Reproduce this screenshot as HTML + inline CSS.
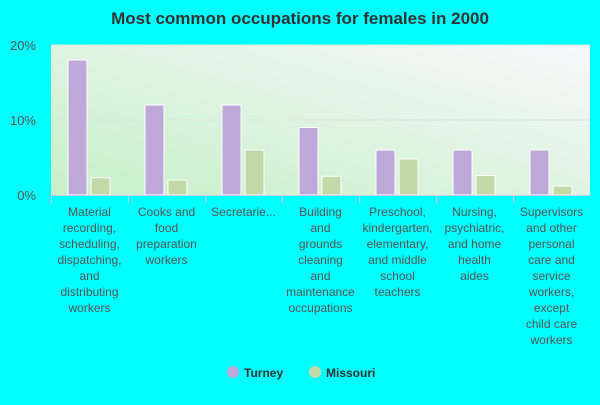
<!DOCTYPE html>
<html><head><meta charset="utf-8"><style>
body{margin:0;background:#00ffff;width:600px;height:400px;overflow:hidden;font-family:"Liberation Sans",sans-serif}
</style></head><body>
<svg id="chart" width="600" height="400" xmlns="http://www.w3.org/2000/svg">
<defs><linearGradient id="bg" x1="0" y1="1" x2="1" y2="0">
<stop offset="0" stop-color="#c6f0c8"/><stop offset="1" stop-color="#f8f8fb"/></linearGradient></defs>
<text x="300" y="24" text-anchor="middle" font-size="17" font-weight="bold" fill="#333">Most common occupations for females in 2000</text>
<rect x="51" y="45" width="539" height="150" fill="url(#bg)"/>
<g id="grid"></g><g id="bars"></g><g id="xaxis"></g>
<g>
<circle cx="233" cy="372" r="6" fill="#bea9da"/>
<text x="244" y="377" font-size="12" font-weight="bold" fill="#333">Turney</text>
<circle cx="315" cy="372" r="6" fill="#c4d9a8"/>
<text x="326" y="377" font-size="12" font-weight="bold" fill="#333">Missouri</text>
</g>
</svg>
<script>
const categories=[["Material","recording,","scheduling,","dispatching,","and","distributing","workers"],["Cooks and","food","preparation","workers"],["Secretarie..."],["Building","and","grounds","cleaning","and","maintenance","occupations"],["Preschool,","kindergarten,","elementary,","and middle","school","teachers"],["Nursing,","psychiatric,","and home","health","aides"],["Supervisors","and other","personal","care and","service","workers,","except","child care","workers"]];
const turney=[18,12,12,9,6,6,6];
const missouri=[2.3,2.0,6.0,2.5,4.8,2.6,1.2];
const ticks=[0,10,20];
const tickLabels=["0%","10%","20%"];
const NS="http://www.w3.org/2000/svg";
const x0=51,cw=77,yb=195,yh=150,ymax=20;
const y=v=>yb-v/ymax*yh;
function mk(t,a,p){const e=document.createElementNS(NS,t);for(const k in a)e.setAttribute(k,a[k]);p.appendChild(e);return e;}
const g=document.getElementById('grid'),b=document.getElementById('bars'),xa=document.getElementById('xaxis');
ticks.forEach((t,i)=>{
 if(t>0){const l=mk('line',{x1:x0,x2:590,y1:y(t),y2:y(t),stroke:'#dde6dd','stroke-width':1},g);
 
 }
 const tx=mk('text',{x:36,y:y(t)+5,'text-anchor':'end','font-size':13,fill:'#555'},g);tx.textContent=tickLabels[i];
 
 
});
mk('line',{x1:x0,x2:590,y1:yb+0.5,y2:yb+0.5,stroke:'#cce',"stroke-width":1},xa);
categories.forEach((c,i)=>{
 const cx=x0+i*cw;
 const s=mk('line',{x1:cx+0.5,x2:cx+0.5,y1:yb,y2:yb+8,stroke:'#cce'},xa);
 
 
 const r1=mk('rect',{x:cx+17,y:y(turney[i]),width:19,height:yb-y(turney[i]),fill:'#bea9da',stroke:'#fff','stroke-width':1},b);
 
 
 const r2=mk('rect',{x:cx+40,y:y(missouri[i]),width:19,height:yb-y(missouri[i]),fill:'#c4d9a8',stroke:'#fff','stroke-width':1},b);
 
 
 const t=mk('text',{'font-size':12,fill:'#555','text-anchor':'middle'},xa);
 
 
 c.forEach((ln,j)=>{const ts=mk('tspan',{x:cx+38.5,y:216+j*16},t);ts.textContent=ln;});
});
</script>
</body></html>
